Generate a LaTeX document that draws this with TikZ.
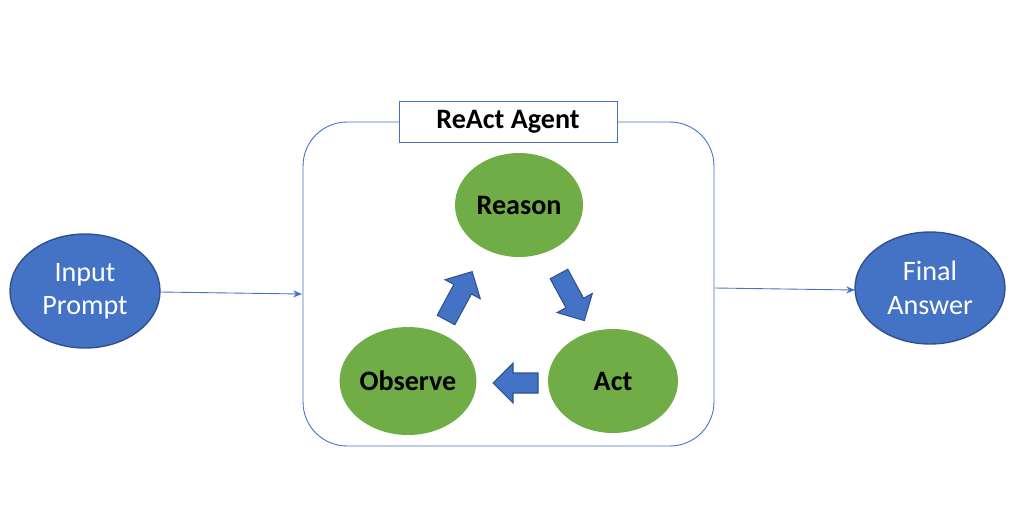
\documentclass[tikz,border=0pt]{standalone}
\usepackage{fontspec}
\setmainfont{Carlito}
\usetikzlibrary{shapes.geometric,arrows.meta}
\begin{document}
\begin{tikzpicture}[x=0.02cm,y=0.02cm,
  blue ell/.style={ellipse,inner sep=0pt,fill=bfill,draw=bdraw,line width=0.8pt,text=white,font=\fontsize{16}{19}\selectfont,align=center},
  green ell/.style={ellipse,inner sep=0pt,fill=gfill,draw=none,font=\bfseries\fontsize{16}{19}\selectfont},
  conn/.style={draw=bfill,line width=0.5pt,-{Stealth[length=5pt,width=4pt]}},
  barrow/.style={fill=bfill,draw=bdraw,line width=0.6pt,line join=miter}]
\definecolor{bfill}{HTML}{4472C4}
\definecolor{bdraw}{HTML}{2F528F}
\definecolor{gfill}{HTML}{70AD47}
\useasboundingbox (0,0) rectangle (1033,-511);
\node[blue ell,minimum width=3.0cm,minimum height=2.28cm] (in) at (85,-291) {Input\\Prompt};
\node[blue ell,minimum width=3.0cm,minimum height=2.24cm] (out) at (930,-288) {Final\\Answer};
\node[draw=bfill,line width=0.5pt,rounded corners=25pt,minimum width=8.22cm,minimum height=6.48cm] (agent) at (508.5,-284) {};
\node[draw=bfill,fill=white,line width=0.5pt,minimum width=4.36cm,minimum height=0.82cm,font=\bfseries\fontsize{16}{19}\selectfont] (title) at (508,-121.5) {ReAct Agent};
\node[green ell,minimum width=2.56cm,minimum height=2.08cm] (reason) at (519,-205) {Reason};
\node[green ell,minimum width=2.6cm,minimum height=2.08cm] (act) at (613,-381) {Act};
\node[green ell,minimum width=2.28cm,minimum height=2.16cm] (obs) at (408,-381) {Observe};
\coordinate (inR) at (160,-292);
\coordinate (agL) at (302,-294);
\coordinate (agR) at (715,-288);
\coordinate (outL) at (855,-290);
\draw[conn] (inR) -- (agL);
\draw[conn] (agR) -- (outL);
\newcommand{\myblock}[4]{\draw[barrow,shift={(#1,#2)},rotate=#3]
  (0,-10) -- (#4-20,-10) -- (#4-20,-20) -- (#4,0) -- (#4-20,20) -- (#4-20,10) -- (0,10) -- cycle;}
\myblock{446}{-320}{61.6}{55}
\myblock{559}{-274}{-61.5}{53}
\myblock{538}{-383}{180}{45}
\end{tikzpicture}
\end{document}
